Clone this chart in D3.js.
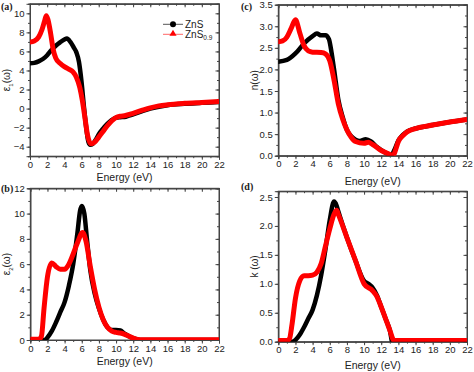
<!DOCTYPE html>
<html>
<head>
<meta charset="utf-8">
<script src="https://cdn.jsdelivr.net/npm/d3@7"></script>
<style>
  body { margin: 0; background: #fff; }
  svg text { font-family: "Liberation Sans", Arial, sans-serif; fill: #222; }
</style>
</head>
<body>
<div id="chart"></div>
<script>
// Data: [energy (eV), value]
var eps1ZnS = [[0,4.75],[0.5,4.8],[1,4.95],[1.5,5.2],[2,5.6],[2.5,6.15],[3,6.6],[3.5,6.95],[4,7.25],[4.3,7.35],[4.7,7.0],[5.1,6.4],[5.4,5.9],[5.7,4.9],[6,2.8],[6.3,0.0],[6.6,-2.4],[6.8,-3.5],[7,-3.8],[7.3,-3.7],[7.7,-3.2],[8,-2.7],[8.5,-2.1],[9,-1.6],[9.5,-1.2],[10,-0.95],[10.5,-0.9],[11,-0.88],[11.5,-0.75],[12,-0.6],[13,-0.3],[14,0.0],[15,0.2],[16,0.35],[18,0.5],[20,0.6],[22,0.7]]
var eps1ZnS09 = [[0,7.0],[0.5,7.1],[1,7.5],[1.4,8.3],[1.7,9.2],[1.9,9.75],[2.1,9.3],[2.4,7.9],[2.7,6.2],[3,5.3],[3.5,4.75],[4,4.4],[4.5,4.15],[5,3.85],[5.4,3.3],[5.8,2.2],[6.1,0.8],[6.4,-1.0],[6.7,-2.8],[7.1,-3.7],[7.5,-3.55],[8,-3.0],[8.5,-2.4],[9,-1.8],[9.5,-1.3],[10,-0.95],[10.5,-0.8],[11,-0.75],[12,-0.5],[13,-0.2],[14,0.08],[15,0.28],[16,0.4],[18,0.55],[20,0.65],[22,0.75]]

var nZnS = [[0,2.18],[1,2.22],[2,2.37],[3,2.6],[4,2.77],[4.5,2.83],[5,2.79],[5.5,2.79],[5.9,2.7],[6.2,2.4],[6.5,2.0],[7,1.3],[7.5,0.9],[8,0.6],[8.5,0.45],[9,0.37],[9.5,0.34],[10.2,0.38],[10.8,0.33],[11.5,0.2],[12.5,0.07],[13.2,0.02],[13.5,0.12],[14,0.35],[14.5,0.48],[15,0.56],[16,0.63],[18,0.71],[20,0.78],[22,0.84]]
var nZnS09 = [[0,2.64],[0.5,2.66],[1,2.75],[1.5,2.95],[2,3.15],[2.5,2.85],[3,2.55],[3.5,2.43],[4,2.4],[5,2.39],[5.5,2.36],[6,2.2],[6.5,1.75],[7,1.2],[7.5,0.85],[8,0.6],[8.5,0.43],[9,0.33],[10,0.29],[10.5,0.31],[11,0.26],[12,0.12],[13,0.03],[13.4,0.0],[13.7,0.15],[14,0.33],[14.5,0.46],[15,0.55],[16,0.63],[18,0.71],[20,0.78],[22,0.84]]

var eps2ZnS = [[0,0],[1.7,0],[2,0.2],[2.5,0.7],[3,1.4],[3.5,2.2],[4,3.0],[4.5,4.3],[5,6.0],[5.5,8.5],[5.8,10.2],[6,10.6],[6.3,10.0],[6.6,8.0],[7,5.5],[7.5,3.7],[8,2.5],[8.5,1.6],[9,1.0],[9.5,0.8],[10,0.8],[10.5,0.75],[11,0.5],[11.5,0.3],[12,0.15],[12.5,0.05],[13,0],[22,0]]
var eps2ZnS09 = [[0,0.05],[1,0.05],[1.3,0.3],[1.6,2.5],[2,5.0],[2.5,6.1],[3,5.8],[3.5,5.6],[4,5.6],[4.5,6.0],[5,6.8],[5.5,7.7],[6.1,8.5],[6.5,7.8],[7,5.8],[7.5,4.0],[8,2.6],[8.5,1.6],[9,1.0],[9.5,0.7],[10,0.6],[10.5,0.55],[11,0.45],[11.5,0.3],[12,0.15],[12.5,0.05],[13,0.02],[22,0.02]]

var kZnS = [[0,0],[1.6,0],[2,0.03],[2.5,0.12],[3,0.25],[3.5,0.4],[4,0.55],[4.5,0.8],[5,1.15],[5.5,1.6],[6,2.1],[6.5,2.42],[6.8,2.35],[7,2.25],[8,1.8],[9,1.4],[10,1.05],[10.5,1.0],[11,0.93],[11.5,0.8],[12,0.6],[12.5,0.4],[13,0.2],[13.3,0],[22,0]]
var kZnS09 = [[0,0.02],[1,0.02],[1.3,0.05],[1.6,0.3],[2,0.75],[2.5,1.05],[3,1.14],[3.5,1.14],[4,1.15],[4.5,1.2],[5,1.35],[5.5,1.65],[6,1.95],[6.5,2.2],[6.8,2.27],[7,2.2],[8,1.8],[9,1.4],[10,1.0],[11,0.88],[11.5,0.78],[12,0.6],[12.5,0.4],[13,0.2],[13.5,0.02],[22,0.02]]

var xDomain = [0, 22]
var xTicks = [0, 2, 4, 6, 8, 10, 12, 14, 16, 18, 20, 22]
var seriesNames = ['ZnS', 'ZnS']
var seriesSubs = ['', '0.9']
var seriesColors = ['#000000', '#ff0000']

var width = 474
var height = 372

var svg = d3.select('#chart').append('svg')
  .attr('width', width)
  .attr('height', height)

var defs = svg.append('defs')

var panels = [
  { id: 'a', label: '(a)', left: 30, right: 219, top: 3.8, bottom: 156.2, y: [-5, 11], yMajor: 2, yMinor: 1, fmt: d3.format('d'), title: ['ε', '1', '(ω)'], series: [eps1ZnS, eps1ZnS09], labelPos: [1, 10], xTitleY: 181 },
  { id: 'c', label: '(c)', left: 278.3, right: 467, top: 4.7, bottom: 155.7, y: [0, 3.5], yMajor: 0.5, yMinor: 0.25, fmt: d3.format('.1f'), title: ['n(ω)'], series: [nZnS, nZnS09], labelPos: [241, 10], xTitleY: 185 },
  { id: 'b', label: '(b)', left: 30.3, right: 219, top: 188.3, bottom: 340, y: [0, 12], yMajor: 2, yMinor: 1, fmt: d3.format('d'), title: ['ε', '2', '(ω)'], series: [eps2ZnS, eps2ZnS09], labelPos: [1, 192], xTitleY: 365 },
  { id: 'd', label: '(d)', left: 278.3, right: 467, top: 191.2, bottom: 341.7, y: [0, 2.6], yMajor: 0.5, yMinor: 0.25, fmt: d3.format('.1f'), title: ['k (ω)'], series: [kZnS, kZnS09], labelPos: [241, 190], xTitleY: 369 }
]

panels.forEach(function (p) {
  var xScale = d3.scaleLinear().domain(xDomain).range([p.left, p.right])
  var yScale = d3.scaleLinear().domain(p.y).range([p.bottom, p.top])
  var g = svg.append('g').attr('class', 'panel-' + p.id)

  defs.append('clipPath').attr('id', 'clip-' + p.id)
    .append('rect')
    .attr('x', p.left).attr('y', p.top)
    .attr('width', p.right - p.left).attr('height', p.bottom - p.top)

  // majors and minors at multiples of the step
  var yMajors = d3.range(Math.ceil(p.y[0] / p.yMajor), Math.floor(p.y[1] / p.yMajor + 1e-9) + 1).map(function (i) { return i * p.yMajor })
  var yMinors = d3.range(Math.ceil(p.y[0] / p.yMinor), Math.floor(p.y[1] / p.yMinor + 1e-9) + 1).map(function (i) { return i * p.yMinor })
  var xMinors = d3.range(xDomain[0], xDomain[1] + 1, 1)

  // Bottom axis, ticks outward
  g.append('g')
    .attr('transform', 'translate(0,' + p.bottom + ')')
    .call(d3.axisBottom(xScale).tickValues(xMinors).tickSize(2).tickFormat(''))
  g.append('g')
    .attr('class', 'xaxis')
    .attr('transform', 'translate(0,' + p.bottom + ')')
    .call(d3.axisBottom(xScale).tickValues(xTicks).tickSize(3.5).tickPadding(1.5).tickFormat(d3.format('d')))

  // Left axis, ticks outward
  g.append('g')
    .attr('transform', 'translate(' + p.left + ',0)')
    .call(d3.axisLeft(yScale).tickValues(yMinors).tickSize(2).tickFormat(''))
  g.append('g')
    .attr('class', 'yaxis')
    .attr('transform', 'translate(' + p.left + ',0)')
    .call(d3.axisLeft(yScale).tickValues(yMajors).tickSize(3.5).tickPadding(2).tickFormat(p.fmt))

  // Top and right, ticks inward
  g.append('g')
    .attr('transform', 'translate(0,' + p.top + ')')
    .call(d3.axisBottom(xScale).tickValues(xMinors).tickSize(2).tickFormat(''))
  g.append('g')
    .attr('transform', 'translate(0,' + p.top + ')')
    .call(d3.axisBottom(xScale).tickValues(xTicks).tickSize(3.5).tickFormat(''))
  g.append('g')
    .attr('transform', 'translate(' + p.right + ',0)')
    .call(d3.axisLeft(yScale).tickValues(yMinors).tickSize(2).tickFormat(''))
  g.append('g')
    .attr('transform', 'translate(' + p.right + ',0)')
    .call(d3.axisLeft(yScale).tickValues(yMajors).tickSize(3.5).tickFormat(''))

  g.selectAll('.domain').attr('stroke', '#444').attr('stroke-width', 1)
  g.selectAll('.tick line').attr('stroke', '#444')
  g.selectAll('.tick text').style('font-size', '9.5px').attr('fill', '#222')

  // Frame
  g.append('rect')
    .attr('x', p.left).attr('y', p.top)
    .attr('width', p.right - p.left).attr('height', p.bottom - p.top)
    .attr('fill', 'none').attr('stroke', '#444').attr('stroke-width', 1)

  // Curves
  var line = d3.line()
    .x(function (d) { return xScale(d[0]) })
    .y(function (d) { return yScale(d[1]) })
    .curve(d3.curveMonotoneX)

  var lines = g.append('g').attr('clip-path', 'url(#clip-' + p.id + ')')
  p.series.forEach(function (s, i) {
    lines.append('path')
      .datum(s)
      .attr('d', line)
      .attr('fill', 'none')
      .attr('stroke', seriesColors[i])
      .attr('stroke-width', i === 0 ? 4.5 : 5)
      .attr('stroke-linejoin', 'round')
      .attr('stroke-linecap', 'round')
  })

  // Panel label
  g.append('text')
    .attr('x', p.labelPos[0]).attr('y', p.labelPos[1])
    .style('font-family', '"Liberation Serif", "Times New Roman", serif')
    .style('font-weight', 'bold')
    .style('font-size', '10px')
    .text(p.label)

  // X title
  g.append('text')
    .attr('x', (p.left + p.right) / 2)
    .attr('y', p.xTitleY)
    .attr('text-anchor', 'middle')
    .style('font-size', '10.5px')
    .text('Energy (eV)')

  // Y title
  var ty = g.append('text')
    .attr('transform', 'translate(' + (p.left - 20) + ',' + ((p.top + p.bottom) / 2) + ') rotate(-90)')
    .attr('text-anchor', 'middle')
    .style('font-size', '10px')
  if (p.title.length === 3) {
    ty.append('tspan').text(p.title[0])
    ty.append('tspan').attr('dy', 3).style('font-size', '6px').text(p.title[1])
    ty.append('tspan').attr('dy', -3).text(p.title[2])
  } else {
    ty.text(p.title[0])
  }
})

// Legend in panel (a)
var legend = svg.append('g').attr('class', 'legend')
var legendRows = [24.3, 34.3]
legendRows.forEach(function (ly, i) {
  legend.append('line')
    .attr('x1', 163).attr('x2', 183).attr('y1', ly).attr('y2', ly)
    .attr('stroke', i === 0 ? '#555' : '#ff6666').attr('stroke-width', 1)
  if (i === 0) {
    legend.append('circle').attr('cx', 173).attr('cy', ly).attr('r', 3).attr('fill', seriesColors[i])
  } else {
    legend.append('path')
      .attr('d', d3.symbol().type(d3.symbolTriangle).size(22))
      .attr('transform', 'translate(173,' + (ly - 0.5) + ')')
      .attr('fill', seriesColors[i])
  }
  var t = legend.append('text')
    .attr('x', 185).attr('y', ly + 3.5)
    .style('font-size', '10px')
  t.append('tspan').text(seriesNames[i])
  if (seriesSubs[i]) {
    t.append('tspan').attr('dy', 2.5).style('font-size', '6.5px').text(seriesSubs[i])
  }
})
</script>
</body>
</html>
